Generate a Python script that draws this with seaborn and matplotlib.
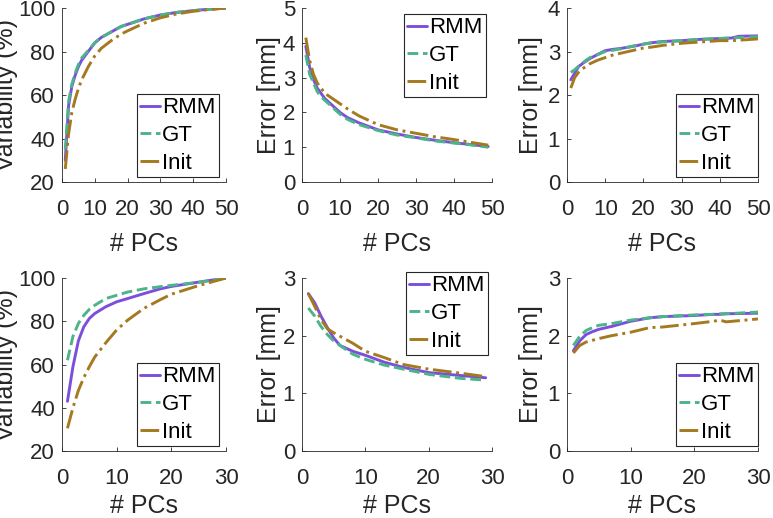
import numpy as np
import pandas as pd
import matplotlib
matplotlib.use("Agg")
import matplotlib.pyplot as plt
import seaborn as sns

# Top row: variability / reconstruction error / generalisation error, 50 PCs
var1_x = [1, 2, 3, 4, 5, 6, 8, 10, 12, 15, 18, 20, 25, 30, 35, 40, 45, 50]
var1_rmm = [30, 55, 64, 69, 73, 76, 80, 84, 86.5, 89, 91.5, 92.5, 95, 96.8, 98, 98.8, 99.5, 100]
var1_gt = [35, 57, 65, 70, 74, 77, 80.5, 84, 86.5, 89, 91.5, 92.5, 95, 96.8, 98, 98.8, 99.5, 100]
var1_init = [26, 42, 52, 58, 63, 67, 73, 78, 81.5, 85, 88, 89.5, 93, 95.5, 97.3, 98.5, 99.3, 100]

err1_x = [1, 2, 3, 4, 5, 6, 8, 10, 12, 15, 20, 25, 30, 35, 40, 45, 49]
err1_rmm = [3.9, 3.3, 2.95, 2.7, 2.55, 2.4, 2.2, 2.0, 1.85, 1.7, 1.5, 1.38, 1.28, 1.2, 1.13, 1.07, 1.02]
err1_gt = [3.65, 3.1, 2.85, 2.6, 2.45, 2.35, 2.15, 1.95, 1.8, 1.65, 1.48, 1.35, 1.27, 1.18, 1.12, 1.06, 1.0]
err1_init = [4.15, 3.5, 3.1, 2.85, 2.7, 2.55, 2.4, 2.25, 2.1, 1.9, 1.65, 1.5, 1.4, 1.3, 1.22, 1.13, 1.06]

gen1_x = [1, 2, 3, 4, 5, 6, 8, 10, 12, 14, 16, 18, 20, 22, 25, 30, 35, 40, 43, 45, 50]
gen1_rmm = [2.35, 2.5, 2.65, 2.72, 2.78, 2.84, 2.93, 3.02, 3.05, 3.07, 3.1, 3.13, 3.17, 3.2, 3.23, 3.25, 3.28, 3.3, 3.31, 3.35, 3.36]
gen1_gt = [2.52, 2.58, 2.66, 2.73, 2.8, 2.86, 2.93, 3.0, 3.03, 3.06, 3.1, 3.14, 3.17, 3.2, 3.22, 3.25, 3.28, 3.3, 3.31, 3.32, 3.34]
gen1_init = [2.16, 2.4, 2.52, 2.6, 2.66, 2.72, 2.8, 2.86, 2.92, 2.96, 3.0, 3.04, 3.08, 3.1, 3.14, 3.19, 3.22, 3.25, 3.25, 3.26, 3.29]

# Bottom row, 30 PCs
var2_x = [1, 2, 3, 4, 5, 6, 8, 10, 12, 15, 18, 20, 25, 30]
var2_rmm = [43, 59, 71, 77.5, 81.3, 83.6, 86.7, 89, 90.5, 92.8, 95, 96.1, 98.1, 100]
var2_gt = [62, 73, 79, 82.8, 85.5, 87.4, 90.5, 92, 93.5, 95, 96, 96.6, 98, 100]
var2_init = [30.5, 40, 48, 54, 59, 63.5, 70, 76, 80.5, 86, 90, 92.5, 96.5, 100]

err2_x = [1, 2, 3, 4, 5, 6, 8, 10, 13, 16, 20, 25, 29]
err2_rmm = [2.73, 2.57, 2.34, 2.14, 1.96, 1.83, 1.73, 1.66, 1.54, 1.45, 1.36, 1.31, 1.27]
err2_gt = [2.48, 2.34, 2.16, 2.02, 1.91, 1.83, 1.68, 1.59, 1.49, 1.42, 1.33, 1.26, 1.23]
err2_init = [2.73, 2.51, 2.28, 2.12, 2.05, 1.99, 1.87, 1.73, 1.62, 1.5, 1.42, 1.35, 1.29]

gen2_x = [1, 2, 3, 4, 5, 7, 10, 13, 15, 20, 23, 24, 25, 30]
gen2_rmm = [1.74, 1.91, 2.02, 2.07, 2.11, 2.16, 2.25, 2.31, 2.33, 2.35, 2.37, 2.37, 2.38, 2.39]
gen2_gt = [1.83, 1.99, 2.09, 2.14, 2.18, 2.21, 2.27, 2.31, 2.33, 2.36, 2.37, 2.38, 2.38, 2.41]
gen2_init = [1.70, 1.83, 1.89, 1.92, 1.95, 2.0, 2.06, 2.14, 2.15, 2.21, 2.25, 2.27, 2.24, 2.29]

methods = ["RMM", "GT", "Init"]
colors = {"RMM": "#7b4fdc", "GT": "#4cb38a", "Init": "#a5791f"}
styles = {"RMM": "-", "GT": "--", "Init": "-."}

sns.set_theme(style="ticks")
plt.rcParams["font.family"] = ["Liberation Sans", "DejaVu Sans"]
grey = "#262626"

fig = plt.figure(figsize=(7.73, 5.18), dpi=100)

# panel positions (figure fractions), MATLAB-like layout
positions = [
    [0.0802, 0.6486, 0.2122, 0.3359],
    [0.3907, 0.6486, 0.2458, 0.3359],
    [0.7335, 0.6486, 0.2471, 0.3359],
    [0.0802, 0.1293, 0.2122, 0.3340],
    [0.3907, 0.1293, 0.2458, 0.3340],
    [0.7335, 0.1293, 0.2471, 0.3340],
]

panels = [
    (var1_x, [var1_rmm, var1_gt, var1_init], "Variability (%)", (0, 50), (20, 100), np.arange(0, 51, 10), np.arange(20, 101, 20)),
    (err1_x, [err1_rmm, err1_gt, err1_init], "Error [mm]", (0, 50), (0, 5), np.arange(0, 51, 10), np.arange(0, 6, 1)),
    (gen1_x, [gen1_rmm, gen1_gt, gen1_init], "Error [mm]", (0, 50), (0, 4), np.arange(0, 51, 10), np.arange(0, 5, 1)),
    (var2_x, [var2_rmm, var2_gt, var2_init], "Variability (%)", (0, 30), (20, 100), np.arange(0, 31, 10), np.arange(20, 101, 20)),
    (err2_x, [err2_rmm, err2_gt, err2_init], "Error [mm]", (0, 30), (0, 3), np.arange(0, 31, 10), np.arange(0, 4, 1)),
    (gen2_x, [gen2_rmm, gen2_gt, gen2_init], "Error [mm]", (0, 30), (0, 3), np.arange(0, 31, 10), np.arange(0, 4, 1)),
]

# legend corner anchors (loc, x, y) and ylabel x offsets
legend_spots = [
    ("lower right", 0.957, 0.029),
    ("upper right", 0.968, 0.966),
    ("lower right", 1.0, 0.029),
    ("lower right", 0.957, 0.029),
    ("upper right", 0.979, 1.035),
    ("lower right", 1.0, 0.029),
]
label_x = [-0.268, -0.11, -0.126, -0.268, -0.11, -0.126]
xlabel_pad = [9, 9, 9, 4, 4, 4]

for i, (x, series, ylab, xlim, ylim, xt, yt) in enumerate(panels):
    ax = fig.add_axes(positions[i])
    for name, vals in zip(methods, series):
        df = pd.DataFrame({"pcs": x, "val": vals})
        sns.lineplot(data=df, x="pcs", y="val", ax=ax, color=colors[name],
                     linestyle=styles[name], linewidth=2.1, label=name)
    ax.set_xlim(*xlim)
    ax.set_ylim(*ylim)
    ax.set_xticks(xt)
    ax.set_yticks(yt)
    ax.set_xlabel("# PCs", fontsize=18, color=grey, labelpad=xlabel_pad[i])
    ax.set_ylabel(ylab, fontsize=18, color=grey)
    ax.yaxis.set_label_coords(label_x[i], 0.5)
    ax.tick_params(direction="in", length=3, width=0.6, colors=grey,
                   labelsize=16, pad=5)
    ax.tick_params(axis="x", pad=12)
    for s in ["top", "right"]:
        ax.spines[s].set_visible(False)
    for s in ["left", "bottom"]:
        ax.spines[s].set_color(grey)
        ax.spines[s].set_linewidth(0.6)
    loc, lx, ly = legend_spots[i]
    leg = ax.legend(loc=loc, bbox_to_anchor=(lx, ly), borderaxespad=0,
                    fontsize=16, frameon=True, fancybox=False, framealpha=1,
                    handlelength=0.9, handletextpad=0.1, borderpad=0.15,
                    labelspacing=0.3)
    leg.get_frame().set_edgecolor(grey)
    leg.get_frame().set_linewidth(0.8)
    for t in leg.get_texts():
        t.set_color("black")

fig.savefig("out.png", dpi=100)
